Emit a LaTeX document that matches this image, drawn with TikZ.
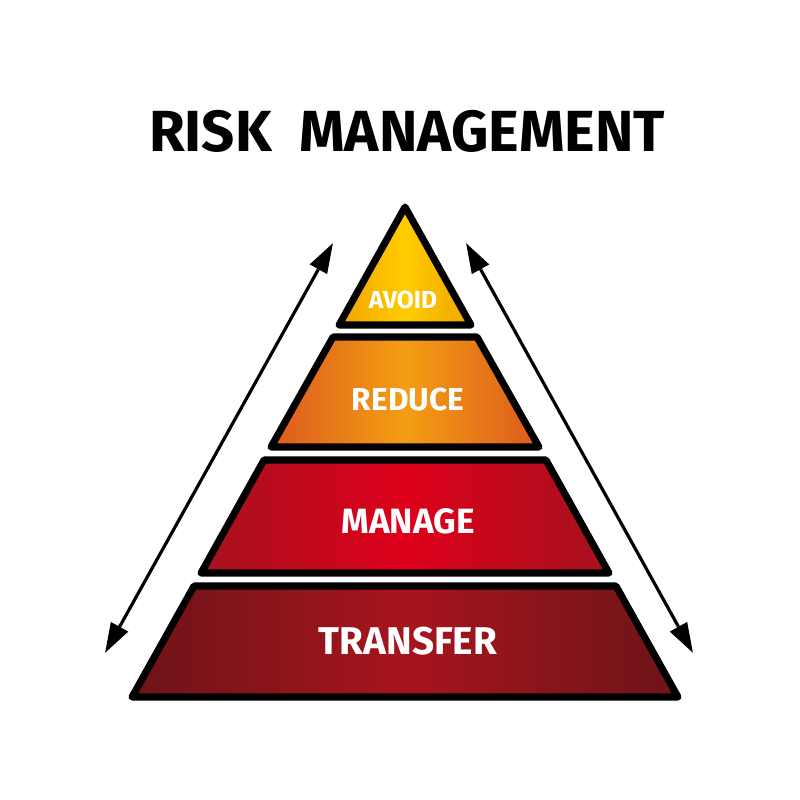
\documentclass[tikz,border=0pt]{standalone}
\usepackage{fontspec}
\setmainfont{Fira Sans}
\definecolor{avoidedge}{RGB}{240, 165, 0}
\definecolor{avoidmid}{RGB}{255, 204, 0}
\definecolor{reduceedge}{RGB}{220, 90, 30}
\definecolor{reducemid}{RGB}{244, 158, 18}
\definecolor{manageedge}{RGB}{165, 18, 30}
\definecolor{managemid}{RGB}{222, 0, 26}
\definecolor{transferedge}{RGB}{108, 20, 24}
\definecolor{transfermid}{RGB}{168, 20, 30}
\usetikzlibrary{arrows.meta, positioning}

\begin{document}
\begin{tikzpicture}[
  band/.style={draw=black, line width=2pt, line join=round, left color=#1edge, right color=#1edge, middle color=#1mid},
  lbl/.style={text=white, font=\bfseries#1},
  arr/.style={line width=0.9pt, {Triangle[length=3mm, width=1.9mm]}-{Triangle[length=3mm, width=1.9mm]}},
]
  \useasboundingbox (0,0) rectangle (8,8);
  % Title
  \node[font=\bfseries\fontsize{16.5}{19}\selectfont] (title) at (4.07,6.69) {RISK\ \ MANAGEMENT};
  % Levels
  \draw[band=avoid] (4.05,5.93) -- (4.71,4.75) -- (3.39,4.75) -- cycle;
  \draw[band=reduce] (3.33,4.63) -- (4.77,4.63) -- (5.39,3.53) -- (2.71,3.53) -- cycle;
  \draw[band=manage] (2.64,3.40) -- (5.46,3.40) -- (6.09,2.27) -- (2.01,2.27) -- cycle;
  \draw[band=transfer] (1.94,2.14) -- (6.16,2.14) -- (6.78,1.03) -- (1.32,1.03) -- cycle;
  % Labels
  \node[lbl=\fontsize{7}{8}\selectfont] (avoid) at (4.03,5.00) {AVOID};
  \node[lbl=\fontsize{9}{10}\selectfont] (reduce) at (4.08,4.00) {REDUCE};
  \node[lbl=\fontsize{10}{12}\selectfont] (manage) at (4.08,2.79) {MANAGE};
  \node[lbl=\fontsize{11}{13}\selectfont] (transfer) at (4.08,1.59) {TRANSFER};
  % Arrows
  \coordinate (lb) at (1.05,1.47);
  \coordinate (lt) at (3.33,5.57);
  \coordinate (rt) at (4.66,5.57);
  \coordinate (rb) at (6.93,1.47);
  \draw[arr] (lb) -- (lt);
  \draw[arr] (rt) -- (rb);
\end{tikzpicture}
\end{document}
